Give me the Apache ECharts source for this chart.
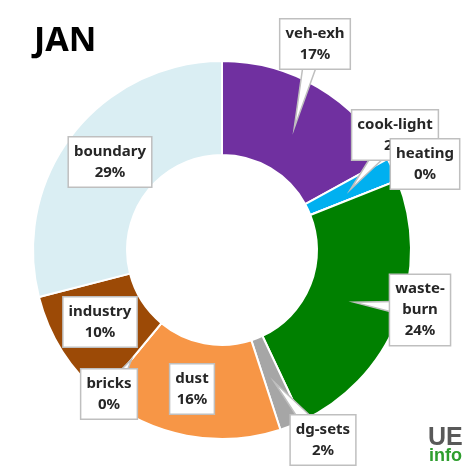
<!DOCTYPE html>
<html><head><meta charset="utf-8">
<script src="https://cdn.jsdelivr.net/npm/echarts@6/dist/echarts.min.js"></script>
<style>html,body{margin:0;padding:0;background:#fff}#c{width:474px;height:474px}</style>
</head><body><div id="c"></div>
<script>
// ---- data ----
const categories = ['veh-exh','cook-light','heating','waste-burn','dg-sets','dust','bricks','industry','boundary'];
const labelNames = ['veh-exh','cook-light','heating','waste-\nburn','dg-sets','dust','bricks','industry','boundary'];
const values = [17, 2, 0, 24, 2, 16, 0, 10, 29];
const titleText = 'JAN';

// ---- styles / layout ----
const colors = ['#7030A0','#00B0F0','#4BACC6','#008000','#A6A6A6','#F79646','#C0504D','#9C4A06','#DAEEF3'];
const labelPos = [[315,44],[395,135],[425,164],[420,310],[323,440],[192,389],[109,394],[100,322],[110,162]];
const hasPointer = [true,true,false,true,true,false,true,false,false];

const chart = echarts.init(document.getElementById('c'));
const font = 'Noto Sans';
chart.setOption({
  animation:false,
  title:{text:titleText,left:29,top:19,textStyle:{fontSize:34,fontWeight:'bold',color:'#000',fontFamily:font}},
  graphic:[
    {type:'text',left:428,top:426,style:{text:'UE',fontSize:25,fontWeight:'bold',fill:'#595959',fontFamily:'Liberation Sans'}},
    {type:'text',left:429,top:447,style:{text:'info',fontSize:18,fontWeight:'bold',fill:'#2E9E2E',fontFamily:'Liberation Sans Narrow, Liberation Sans'}}
  ],
  series:[{
    type:'pie',
    center:[222,250],
    radius:[95,189],
    startAngle:90,
    clockwise:true,
    avoidLabelOverlap:false,
    itemStyle:{borderColor:'#fff',borderWidth:2},
    label:{
      show:true,position:'outside',
      formatter:p=>labelNames[p.dataIndex]+'\n'+p.value+'%',
      fontFamily:font,fontSize:15,fontWeight:'bold',color:'#262626',lineHeight:21,
      backgroundColor:'#fff',borderColor:'#BFBFBF',borderWidth:1.5,padding:[4,5,3,5],align:'center'
    },
    labelLine:{show:false},
    labelLayout:p=>({x:labelPos[p.dataIndex][0],y:labelPos[p.dataIndex][1],align:'center',verticalAlign:'middle'}),
    data:categories.map((c,i)=>({name:c,value:values[i],itemStyle:{color:colors[i]}}))
  }]
});

// callout pointers: tip at mid-angle of each slice (from the library's layout), base at the label box
const sData = chart.getModel().getSeriesByIndex(0).getData();
const zr = chart.getZr();
categories.forEach((c,i)=>{
  if(!hasPointer[i]) return;
  const L = sData.getItemLayout(i);
  const mid = (L.startAngle + L.endAngle)/2;
  const rr = (L.r + L.r0)/2;
  const tip = [L.cx + rr*Math.cos(mid), L.cy + rr*Math.sin(mid)];
  const b = labelPos[i];
  const dx = tip[0]-b[0], dy = tip[1]-b[1];
  const len = Math.hypot(dx,dy);
  const px = -dy/len*9, py = dx/len*9;
  zr.add(new echarts.graphic.Polygon({
    z:2, z2:3,
    shape:{points:[[b[0]+px,b[1]+py],[b[0]-px,b[1]-py],tip]},
    style:{fill:'#fff',stroke:'#BFBFBF',lineWidth:1.5}
  }));
});
</script></body></html>
